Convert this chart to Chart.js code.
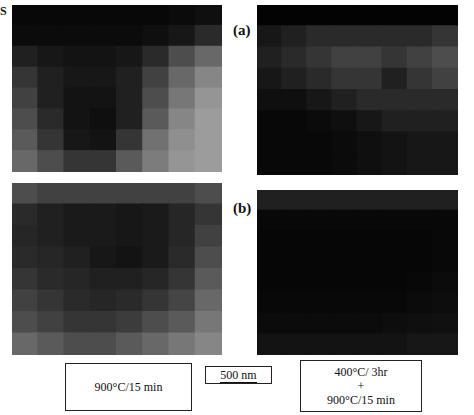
<!DOCTYPE html>
<html><head><meta charset="utf-8">
<script src="https://cdn.jsdelivr.net/npm/chart.js@4/dist/chart.umd.min.js"></script>
<style>
body{margin:0;width:474px;height:415px;background:#fff;position:relative;overflow:hidden;font-family:"Liberation Serif",serif;color:#111}
.p{position:absolute}
.box{position:absolute;border:1px solid #222;text-align:center;font-size:12px;display:flex;align-items:center;justify-content:center;line-height:14px}
.lbl{position:absolute;font-weight:bold;font-size:15px}
</style></head><body>
<div class="p" style="left:12px;top:5px;width:210px;height:167px"><canvas id="tl"></canvas></div>
<div class="p" style="left:257px;top:5px;width:201px;height:170px"><canvas id="tr"></canvas></div>
<div class="p" style="left:12px;top:183px;width:210px;height:172px"><canvas id="bl"></canvas></div>
<div class="p" style="left:257px;top:190px;width:201px;height:165px"><canvas id="br"></canvas></div>
<div class="lbl" style="left:233px;top:22px">(a)</div>
<div class="lbl" style="left:233px;top:200px">(b)</div>
<div class="lbl" style="left:0px;top:4px;font-size:12px">S</div>
<div class="box" style="left:65px;top:363px;width:125px;height:46px">900°C/15 min</div>
<div class="box" style="left:205px;top:366px;width:65px;height:16px"><span style="border-bottom:1px solid #111">500 nm</span></div>
<div class="box" style="left:300px;top:360px;width:120px;height:50px">400°C/ 3hr<br>+<br>900°C/15 min</div>
<script>
// brightness (0 black .. 100 white), rows top to bottom, 8 columns each
const cols = ['c1','c2','c3','c4','c5','c6','c7','c8'];
const tlGrid = [
  [10,10,10,10,10,10,12,15],
  [12,12,12,12,12,15,20,30],
  [25,20,18,18,20,30,45,55],
  [35,25,20,20,25,40,55,65],
  [40,25,18,18,25,45,60,70],
  [45,30,18,15,25,50,65,72],
  [50,35,20,18,35,58,68,72],
  [55,45,35,35,50,62,70,72]
];
const trGrid = [
  [5,5,5,5,5,5,5,5],
  [20,25,30,30,30,30,30,35],
  [25,30,35,40,40,35,40,45],
  [20,25,30,35,35,25,35,40],
  [15,15,20,25,30,30,30,30],
  [10,10,12,15,20,25,25,25],
  [10,10,10,12,15,18,20,20],
  [10,10,10,12,15,18,20,20]
];
const blGrid = [
  [45,40,40,40,40,40,40,45],
  [30,25,22,22,20,22,28,35],
  [28,25,22,22,20,22,28,40],
  [30,28,25,20,18,22,30,45],
  [35,30,28,25,25,28,35,50],
  [40,35,30,28,30,35,42,55],
  [45,40,35,35,38,45,50,60],
  [55,50,45,45,50,55,60,65]
];
const brGrid = [
  [25,25,25,25,25,25,25,25],
  [10,10,10,10,10,10,10,10],
  [8,8,8,8,8,8,8,10],
  [8,8,8,8,8,8,8,10],
  [8,8,8,8,8,8,10,12],
  [10,10,10,10,10,10,12,14],
  [12,12,12,12,12,14,15,16],
  [18,18,18,18,18,18,20,20]
];

const gray = (v) => { const g = Math.round(255 * Math.pow(v / 100, 1.5)); return `rgb(${g},${g},${g})`; };

function panel(id, grid) {
  const rows = grid.slice().reverse();
  new Chart(document.getElementById(id), {
    type: 'bar',
    data: {
      labels: cols,
      datasets: rows.map(r => ({
        data: r.map(() => 1),
        backgroundColor: r.map(gray),
        borderWidth: 0, barPercentage: 1, categoryPercentage: 1, inflateAmount: 1
      }))
    },
    options: {
      animation: false, responsive: true, maintainAspectRatio: false,
      layout: { padding: 0 },
      plugins: { legend: { display: false }, tooltip: { enabled: false } },
      scales: {
        x: { stacked: true, display: false },
        y: { stacked: true, display: false, min: 0, max: rows.length }
      }
    }
  });
}
panel('tl', tlGrid);
panel('tr', trGrid);
panel('bl', blGrid);
panel('br', brGrid);
</script>
</body></html>
